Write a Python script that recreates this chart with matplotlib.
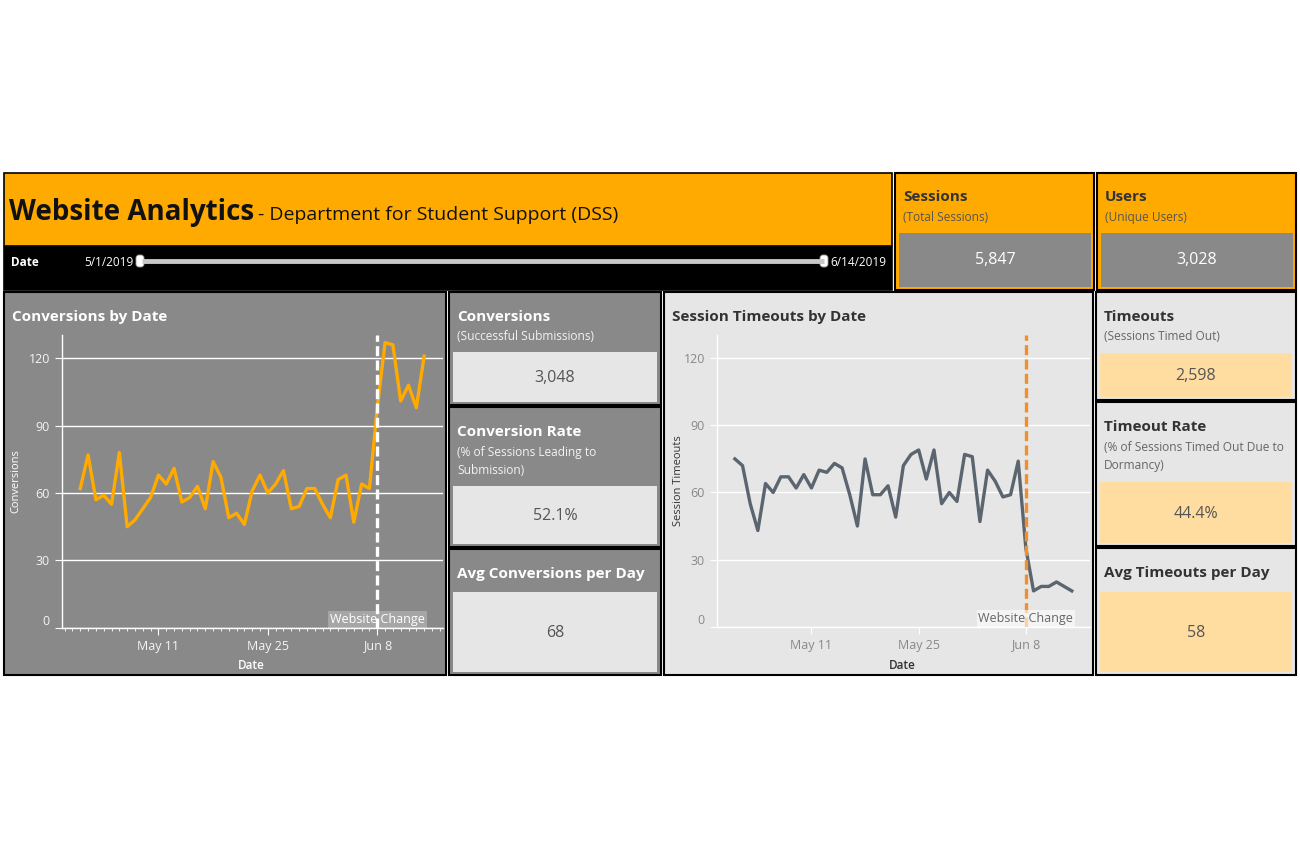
import numpy as np
import matplotlib
matplotlib.use("Agg")
import matplotlib.pyplot as plt
import matplotlib.dates as mdates
from matplotlib.patches import Rectangle, FancyBboxPatch

# ---- data ----
dates = np.arange(np.datetime64('2019-05-01'), np.datetime64('2019-06-15'))
conversions = [62, 77, 57, 59, 55, 78, 45, 48, 53, 58,
               68, 64, 71, 56, 58, 63, 53, 74, 67, 49,
               51, 46, 61, 68, 60, 64, 70, 53, 54, 62,
               62, 55, 49, 66, 68, 47, 64, 62, 98, 127,
               126, 101, 108, 98, 121]
timeouts = [75, 72, 55, 43, 64, 60, 67, 67, 62, 68,
            62, 70, 69, 73, 71, 59, 45, 75, 59, 59,
            63, 49, 72, 77, 79, 66, 79, 55, 60, 56,
            77, 76, 47, 70, 65, 58, 59, 74, 35, 16,
            18, 18, 20, 18, 16]
change_date = np.datetime64('2019-06-08')
tick_dates = [np.datetime64('2019-05-11'), np.datetime64('2019-05-25'), np.datetime64('2019-06-08')]
tick_labels = ['May 11', 'May 25', 'Jun 8']
y_ticks = [0, 30, 60, 90, 120]

top_titles = ['Sessions', 'Users']
top_subs = ['(Total Sessions)', '(Unique Users)']
top_values = ['5,847', '3,028']
conv_titles = ['Conversions', 'Conversion Rate', 'Avg Conversions per Day']
conv_subs = ['(Successful Submissions)', '(% of Sessions Leading to\nSubmission)', '']
conv_values = ['3,048', '52.1%', '68']
to_titles = ['Timeouts', 'Timeout Rate', 'Avg Timeouts per Day']
to_subs = ['(Sessions Timed Out)', '(% of Sessions Timed Out Due to\nDormancy)', '']
to_values = ['2,598', '44.4%', '58']

ORANGE = '#FFAA00'
GREY = '#898989'
LIGHT = '#E6E6E6'
PEACH = '#FFDDA0'
SLATE = '#5B6570'

plt.rcParams['font.family'] = ['Open Sans', 'DejaVu Sans']

W, H = 1300, 850
fig = plt.figure(figsize=(13, 8.5), dpi=100)
fig.patch.set_facecolor('white')

bg = fig.add_axes([0, 0, 1, 1])
bg.set_xlim(0, W)
bg.set_ylim(H, 0)
bg.axis('off')
bg.set_zorder(0)


def box(x0, y0, x1, y1, fc, ec='black', lw=1.2):
    bg.add_patch(Rectangle((x0, y0), x1 - x0, y1 - y0, facecolor=fc,
                           edgecolor=ec, linewidth=lw))


def label(x, y, s, size, color, weight='normal', ha='left'):
    return bg.text(x, y, s, fontsize=size, color=color, fontweight=weight,
                   ha=ha, va='center')


# ---- header ----
box(4, 173, 892, 246, ORANGE)
title = label(9, 212, 'Website Analytics', 20, '#111111', 'bold')
fig.canvas.draw()
ext = title.get_window_extent()
label(ext.x1 + 4, 215, '- Department for Student Support (DSS)', 14, '#111111')

box(4, 247, 892, 290, 'black')
label(11, 262, 'Date', 8.5, 'white', 'bold')
label(133, 262, '5/1/2019', 8.5, 'white', ha='right')
label(830, 262, '6/14/2019', 8.5, 'white')
bg.plot([142, 824], [261, 261], color='#C8C8C8', lw=3.5, solid_capstyle='butt')
for hx in (136, 820):
    bg.add_patch(FancyBboxPatch((hx, 255), 8, 12, boxstyle='round,pad=0,rounding_size=3',
                                facecolor='white', edgecolor='#999999', lw=0.6))

# ---- top right KPI tiles ----
for i, x0 in enumerate([895, 1097]):
    box(x0, 173, x0 + 199, 290, ORANGE, lw=1.5)
    box(x0 + 4, 233, x0 + 196, 287, GREY, ec='none')
    label(x0 + 8, 197, top_titles[i], 11, '#333333', 'bold')
    label(x0 + 8, 217, top_subs[i], 8.6, '#555555')
    label(x0 + 100, 260, top_values[i], 11.5, 'white', ha='center')


def tile_column(x0, x1, tiles, titles, subs, values, fc, title_c, sub_c, val_fc, val_c):
    for (ty, tb, vt), t, s, v in zip(tiles, titles, subs, values):
        box(x0, ty, x1, tb, fc, lw=1.5)
        box(x0 + 4, vt, x1 - 4, tb - 3, val_fc, ec='none')
        label(x0 + 8, ty + 25, t, 11, title_c, 'bold')
        for k, line in enumerate(s.split('\n') if s else []):
            label(x0 + 8, ty + 45 + 18 * k, line, 8.6, sub_c)
        label((x0 + x1) / 2, (vt + tb - 3) / 2 + 1, v, 11.5, val_c, ha='center')


tile_column(449, 661, [(292, 405, 352), (407, 547, 486), (549, 675, 592)],
            conv_titles, conv_subs, conv_values, GREY, 'white', '#F2F2F2', LIGHT, '#555555')
tile_column(1096, 1296, [(292, 400, 353), (402, 546, 482), (548, 675, 592)],
            to_titles, to_subs, to_values, LIGHT, '#333333', '#666666', PEACH, '#555555')

# ---- chart panels ----
box(4, 292, 446, 675, GREY, lw=1.5)
box(664, 292, 1093, 675, LIGHT, lw=1.5)
label(12, 317, 'Conversions by Date', 11, 'white', 'bold')
label(672, 317, 'Session Timeouts by Date', 11, '#333333', 'bold')


def chart(px, values, line_c, vline_c, tick_c, axis_c, lab_c, ylab, tag_alpha, tag_c,
          minor, ylab_x, xlab_y):
    l, t, r, b = px
    ax = fig.add_axes([l / W, 1 - b / H, (r - l) / W, (b - t) / H])
    ax.set_zorder(2)
    ax.set_facecolor('none')
    for side in ('top', 'right'):
        ax.spines[side].set_visible(False)
    for side in ('left', 'bottom'):
        ax.spines[side].set_color(axis_c)
        ax.spines[side].set_linewidth(1)
    ax.yaxis.grid(True, color='white', lw=1)
    ax.set_axisbelow(True)
    ax.plot(dates, values, color=line_c, lw=2.4, zorder=3)
    ax.axvline(change_date, color=vline_c, lw=2.4, ls=(0, (3, 1.3)), zorder=4)
    ax.text(change_date, 0.8, 'Website Change', ha='center', va='bottom', fontsize=9,
            color=tag_c, zorder=5,
            bbox=dict(boxstyle='square,pad=0.15', fc='white', alpha=tag_alpha, ec='none'))
    ax.set_xlim(dates[0] - np.timedelta64(57, 'h'), dates[-1] + np.timedelta64(57, 'h'))
    ax.set_ylim(0, 130.4)
    ax.set_yticks(y_ticks)
    ax.set_xticks(tick_dates)
    ax.set_xticklabels(tick_labels)
    if minor:
        ax.xaxis.set_minor_locator(mdates.DayLocator())
        ax.tick_params(axis='x', which='minor', length=2, color=axis_c)
    ax.tick_params(axis='both', which='major', length=5, color=axis_c,
                   labelcolor=tick_c, labelsize=9)
    ax.yaxis.get_major_ticks()[0].label1.set_verticalalignment('bottom')
    ax.set_ylabel(ylab, fontsize=8, color=lab_c)
    ax.yaxis.set_label_coords(ylab_x, 0.5)
    ax.set_xlabel('Date', fontsize=8.5, color=lab_c, fontweight='semibold')
    ax.xaxis.set_label_coords(0.497, xlab_y)
    return ax


chart((61.7, 335, 442.7, 627.7), conversions, ORANGE, 'white', '#F4F4F4', 'white', 'white',
      'Conversions', 0.25, 'white', True, -0.105, -0.108)
chart((716.7, 335, 1090, 626.7), timeouts, SLATE, '#F28E2B', '#888888', 'white', '#333333',
      'Session Timeouts', 0.6, '#666666', False, -0.088, -0.11)

fig.savefig('out.png', dpi=100, facecolor='white')
